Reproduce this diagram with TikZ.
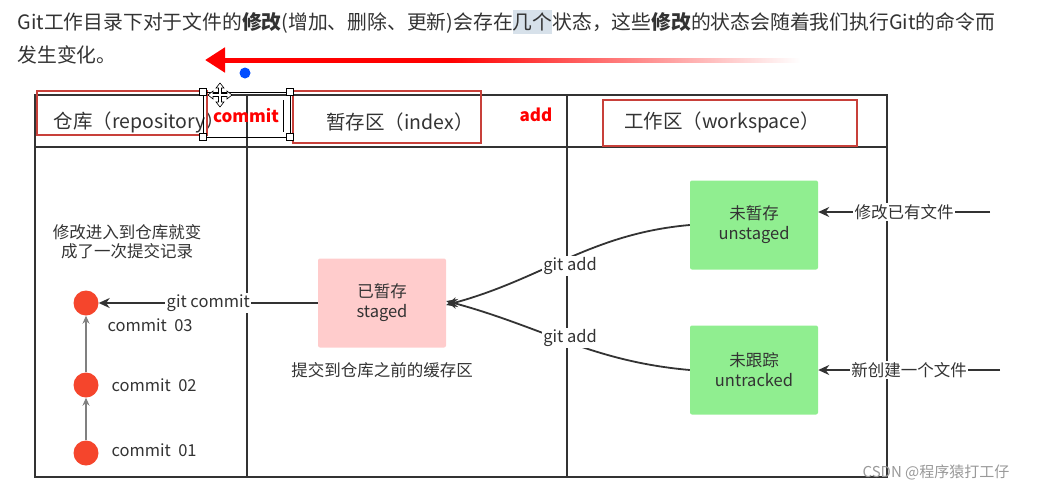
\documentclass[tikz,border=0pt]{standalone}
\usepackage{fontspec}
\setmainfont{Noto Sans CJK SC}
\usetikzlibrary{arrows.meta,fadings}
\definecolor{frame}{HTML}{333333}
\definecolor{txt}{HTML}{333333}
\definecolor{redb}{HTML}{C8403A}
\definecolor{dotred}{HTML}{F5452C}
\definecolor{pinkb}{HTML}{FFCCCC}
\definecolor{greenb}{HTML}{90EE90}
\begin{document}
\begin{tikzpicture}[x=1pt,y=-1pt,
  frameline/.style={draw=frame,line width=2.6pt},
  redbox/.style={draw=redb,line width=1.4pt},
  hdr/.style={font=\fontsize{19.5}{22}\selectfont,text=txt},
  lab/.style={font=\fontsize{16.5}{19}\selectfont,text=txt},
  box/.style={rounded corners=2pt,minimum width=128pt,minimum height=89pt,align=center,font=\fontsize{16.5}{20}\selectfont,text=txt},
  cdot/.style={circle,fill=dotred,minimum size=25pt,inner sep=0pt},
  arr/.style={draw=frame,line width=1.8pt,-{Stealth[length=11pt,width=10pt]}},
  garr/.style={draw=gray,line width=1.2pt,-{Stealth[length=8pt,width=7pt]}},
  wbg/.style={fill=white,inner sep=1.5pt}]
\useasboundingbox (0,0) rectangle (1051,493);
% top text
\node[anchor=west,font=\fontsize{19.8}{22}\selectfont,text=txt] (t1) at (14,22) {Git工作目录下对于文件的\textbf{修改}(增加、删除、更新)会存在\colorbox[HTML]{D7E1EA}{\hspace{-3pt}几个\hspace{-3pt}}状态，这些\textbf{修改}的状态会随着我们执行Git的命令而};
\node[anchor=west,font=\fontsize{19.8}{22}\selectfont,text=txt] (t2) at (14,55) {发生变化。};
\coordinate (rb) at (205,60);
\fill[red,path fading=east] (450,57.5) rectangle (800,62.5);
\draw[red,line width=5pt,-{Triangle[length=20pt,width=24pt]}] (450,60) -- (rb);
\fill[blue!70!cyan] (245,73) circle (5.5);
% table
\draw[frameline] (35,95) rectangle (887,477);
\draw[frameline] (35,147) -- (887,147);
\draw[frameline] (247,95) -- (247,477);
\draw[frameline] (567,95) -- (567,477);
% headers
\node[hdr,anchor=west] (h1) at (50,122) {仓库（repository）};
\node[hdr] (h2) at (400,122) {暂存区（index）};
\node[hdr] (h3) at (722,122) {工作区（workspace）};
\draw[redbox] (37,91) rectangle (207,135);
\draw[redbox] (293,91) rectangle (481,143);
\draw[redbox] (603,100) rectangle (857,146);
\draw[black,line width=0.7pt] (203,92) rectangle (290,137);
\foreach \p in {(203,92),(290,92),(203,137),(290,137)} \draw[black,fill=white] \p ++(-3.5,-3.5) rectangle ++(7,7);
\draw[black,line width=0.7pt] (283,100) -- (283,132);
\node[text=red,font=\bfseries\fontsize{17}{20}\selectfont] (cm) at (246,116) {commit};
\node[text=red,font=\bfseries\fontsize{17}{20}\selectfont] (ad) at (536,115) {add};
% move cursor
\begin{scope}[shift={(220,95)}]
\draw[black,fill=white,line width=0.6pt] (0,-12)--(4,-7)--(1.5,-7)--(1.5,-1.5)--(7,-1.5)--(7,-4)--(12,0)--(7,4)--(7,1.5)--(1.5,1.5)--(1.5,7)--(4,7)--(0,12)--(-4,7)--(-1.5,7)--(-1.5,1.5)--(-7,1.5)--(-7,4)--(-12,0)--(-7,-4)--(-7,-1.5)--(-1.5,-1.5)--(-1.5,-7)--(-4,-7)--cycle;
\end{scope}
% left column
\node[lab,align=center] (note1) at (127,242) {修改进入到仓库就变\\成了一次提交记录};
\node[cdot] (c3) at (86,303) {};
\node[cdot] (c2) at (86,385) {};
\node[cdot] (c1) at (86,453) {};
\node[lab,anchor=west] (l3) at (104,325) {commit\ \ 03};
\node[lab,anchor=west] (l2) at (108,385) {commit\ \ 02};
\node[lab,anchor=west] (l1) at (108,450) {commit\ \ 01};
\draw[garr] (c1) -- (c2);
\draw[garr] (c2) -- (c3);
% boxes
\node[box,fill=pinkb] (st) at (382,303) {已暂存\\staged};
\node[lab] (note2) at (382,370) {提交到仓库之前的缓存区};
\node[box,fill=greenb] (un) at (754,225) {未暂存\\unstaged};
\node[box,fill=greenb] (ut) at (754,370) {未跟踪\\untracked};
\draw[arr] (st) -- node[lab,wbg] {git commit} (c3);
\draw[arr] (un.west) to[out=185,in=15] ([yshift=-2pt]st.east);
\draw[arr] (ut.west) to[out=175,in=-15] ([yshift=2pt]st.east);
\node[lab,wbg] (ga1) at (570,266) {git add};
\node[lab,wbg] (ga2) at (570,338) {git add};
\coordinate (e1) at (990,212);
\coordinate (e2) at (1000,370);
\draw[arr] (e1) -- node[lab,wbg,pos=0.5] {修改已有文件} (un.east |- e1);
\draw[arr] (e2) -- node[lab,wbg,pos=0.5] {新创建一个文件} (ut.east |- e2);
\node[text=gray!80,font=\fontsize{15}{17}\selectfont] (wm) at (936,472) {CSDN @程序猿打工仔};
\end{tikzpicture}
\end{document}
